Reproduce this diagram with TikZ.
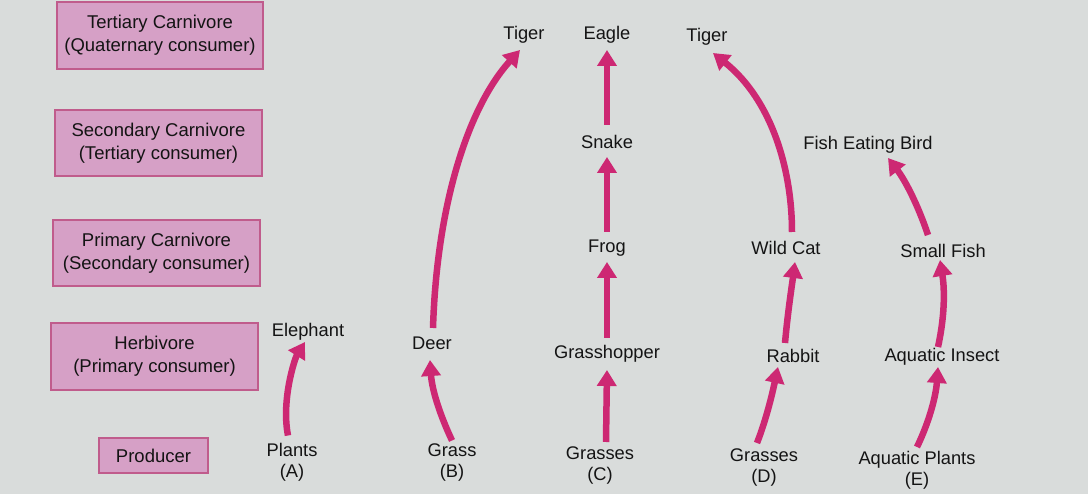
\documentclass[tikz,border=0pt]{standalone}
\usepackage{fontspec}
\setmainfont{Liberation Sans}
\usetikzlibrary{arrows.meta,calc}
\definecolor{bg}{RGB}{217,220,219}
\definecolor{boxfill}{RGB}{214,160,198}
\definecolor{boxline}{RGB}{192,92,140}
\definecolor{arr}{RGB}{205,40,115}
\definecolor{ink}{RGB}{20,20,20}
\begin{document}
\begin{tikzpicture}[x=1pt,y=-1pt,
  level/.style={draw=boxline,line width=1.2pt,fill=boxfill,text=ink,align=center,
    font=\fontsize{18.5}{23}\selectfont,inner sep=0pt},
  org/.style={text=ink,align=center,font=\fontsize{18.3}{21}\selectfont,inner sep=1pt},
  feed/.style={draw=arr,line width=6.5pt,-{Triangle[width=19pt,length=16pt]}}]
\fill[bg] (0,0) rectangle (1088,494);
\useasboundingbox (0,0) rectangle (1088,494);

% trophic level boxes
\node[level,minimum width=206pt,minimum height=67pt] (l5) at (160,35.5) {Tertiary Carnivore\\(Quaternary consumer)};
\node[level,minimum width=207pt,minimum height=66pt] (l4) at (158.5,143) {Secondary Carnivore\\(Tertiary consumer)};
\node[level,minimum width=207pt,minimum height=66pt] (l3) at (156.5,253) {Primary Carnivore\\(Secondary consumer)};
\node[level,minimum width=207pt,minimum height=67pt] (l2) at (154.5,356.5) {Herbivore\\(Primary consumer)};
\node[level,minimum width=109pt,minimum height=35pt] (l1) at (153.5,455.5) {Producer};

% organisms
\node[org] (elephant) at (308,332) {Elephant};
\node[org] (plants) at (292,462.5) {Plants\\(A)};
\node[org] (deer) at (432,343) {Deer};
\node[org] (grass) at (452,462.5) {Grass\\(B)};
\node[org] (tigerA) at (524,35) {Tiger};
\node[org] (eagle) at (607,35) {Eagle};
\node[org] (tigerB) at (707,37) {Tiger};
\node[org] (snake) at (607,142) {Snake};
\node[org] (frog) at (607,248) {Frog};
\node[org] (hopper) at (607,354) {Grasshopper};
\node[org] (grassesC) at (600,466) {Grasses\\(C)};
\node[org] (fishbird) at (868,145) {Fish Eating Bird};
\node[org] (wildcat) at (786,248) {Wild Cat};
\node[org] (smallfish) at (943,251) {Small Fish};
\node[org] (rabbit) at (793,356) {Rabbit};
\node[org] (insect) at (942,357) {Aquatic Insect};
\node[org] (grassesD) at (764,468) {Grasses\\(D)};
\node[org] (aqplants) at (917,470) {Aquatic Plants\\(E)};

% chain A
\draw[feed] ($(plants)+(-4,-27)$) .. controls (281,400) and (295,358) .. ($(elephant)+(-3,10)$);
% chain B
\draw[feed] ($(grass)+(0,-22)$) .. controls (440,415) and (432,390) .. ($(deer)+(-2,17)$);
\draw[feed] ($(deer)+(1,-15)$) .. controls (437,200) and (470,105) .. ($(tigerA)+(-4,15)$);
% chain C
\draw[feed] ($(grassesC)+(6,-24)$) -- ($(hopper)+(0,16)$);
\draw[feed] ($(hopper)+(0,-16)$) -- ($(frog)+(0,14)$);
\draw[feed] ($(frog)+(0,-16)$) -- ($(snake)+(0,15)$);
\draw[feed] ($(snake)+(0,-17)$) -- ($(eagle)+(0,15)$);
% chain D
\draw[feed] ($(grassesD)+(-7,-25)$) .. controls (766,420) and (772,395) .. ($(rabbit)+(-15,11)$);
\draw[feed] ($(rabbit)+(-8,-13)$) .. controls (788,310) and (792,285) .. ($(wildcat)+(9,14)$);
\draw[feed] ($(wildcat)+(6,-16)$) .. controls (792,170) and (772,100) .. ($(tigerB)+(6,16)$);
% chain E
\draw[feed] ($(aqplants)+(0,-23)$) .. controls (930,420) and (936,395) .. ($(insect)+(-4,10)$);
\draw[feed] ($(insect)+(-4,-10)$) .. controls (946,310) and (944,285) .. ($(smallfish)+(-3,9)$);
\draw[feed] ($(smallfish)+(-15,-16)$) .. controls (918,205) and (905,180) .. ($(fishbird)+(20,13)$);
\end{tikzpicture}
\end{document}
